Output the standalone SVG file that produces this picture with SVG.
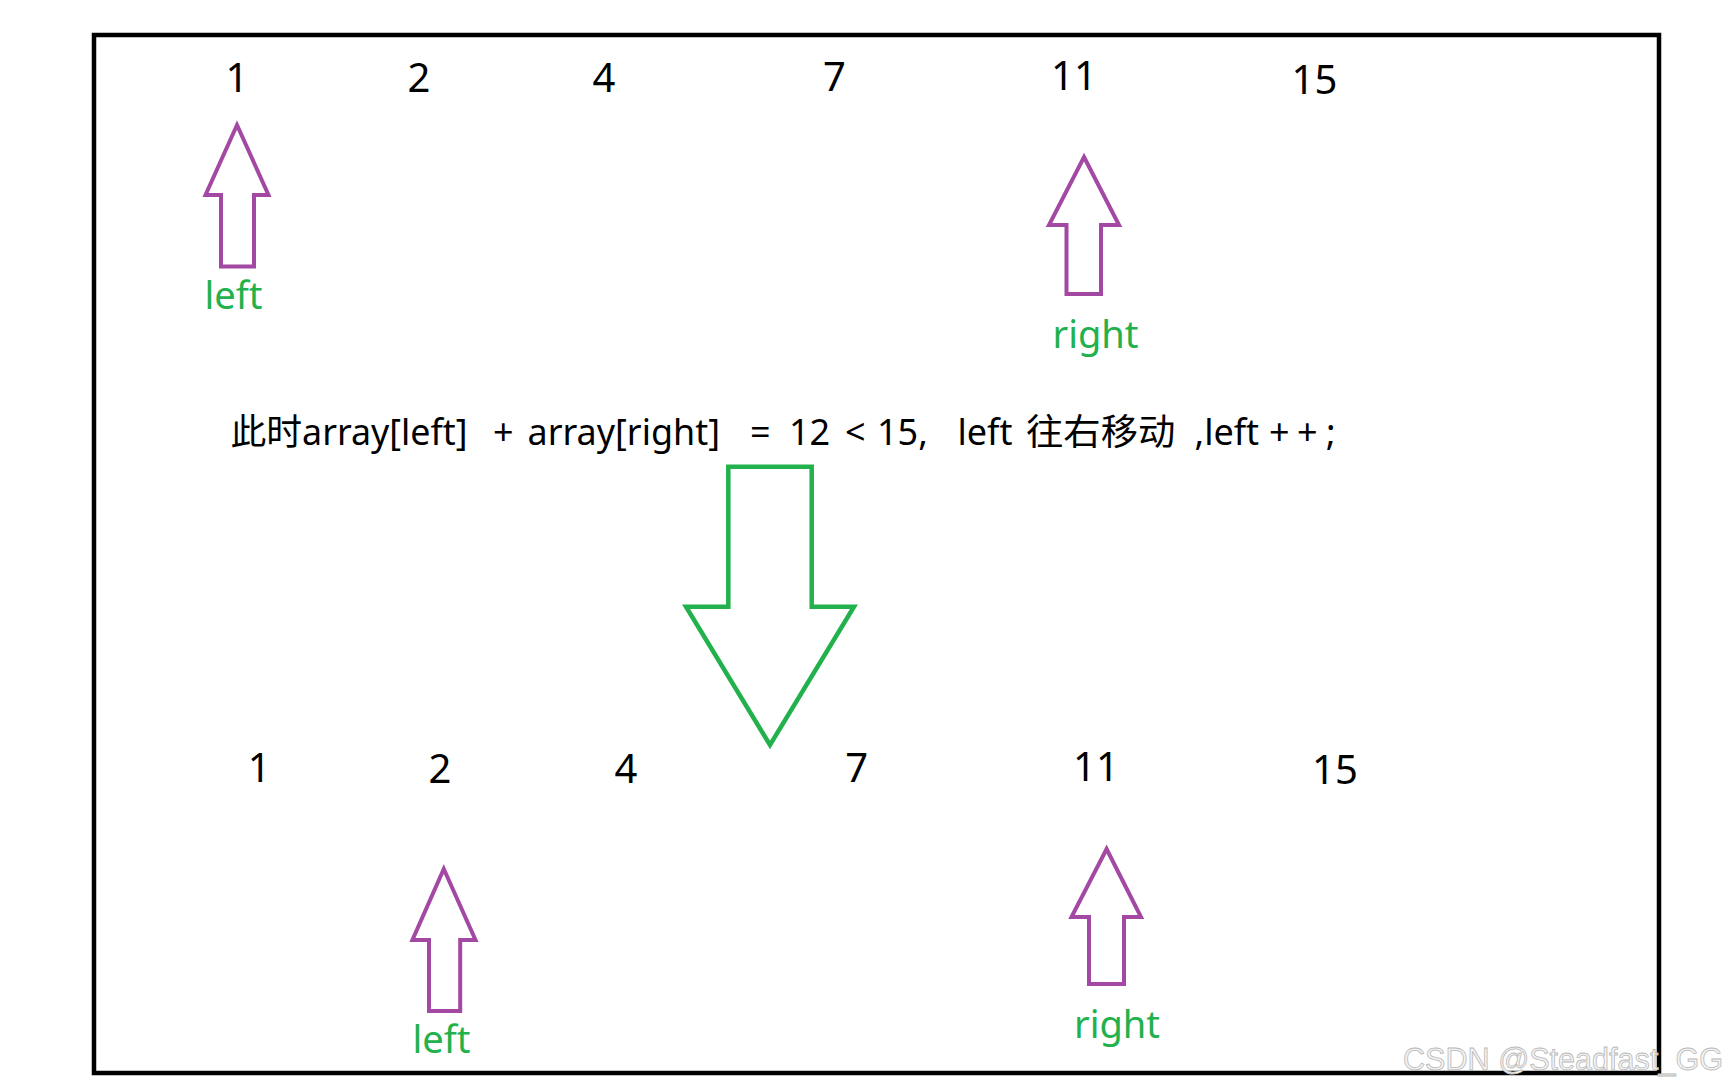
<svg xmlns="http://www.w3.org/2000/svg" width="1733" height="1090" viewBox="0 0 1733 1090">
<style>
.num{font-family:"Noto Sans","DejaVu Sans",sans-serif;font-size:40px;fill:#000;text-anchor:middle}
.lbl{font-family:"Noto Sans","DejaVu Sans",sans-serif;font-size:38px;fill:#22b14c}
.txt{font-family:"Noto Sans","Noto Sans CJK SC",sans-serif;font-size:36px;fill:#000}
.pa{fill:#fff;stroke:#a349a4;stroke-width:4;stroke-linejoin:miter}
.ga{fill:#fff;stroke:#22b14c;stroke-width:4.5;stroke-linejoin:miter}
.wm{font-family:"Liberation Sans",Arial,sans-serif;font-size:31px;fill:#f4f4f4;stroke:#b8b8b8;stroke-width:0.8}
</style>
<rect width="1733" height="1090" fill="#fff"/>
<rect id="frame" x="94" y="35" width="1565" height="1038" fill="none" stroke="#000" stroke-width="4.5"/>

<g id="top-row">
<text class="num" x="237" y="92">1</text>
<text class="num" x="419" y="92">2</text>
<text class="num" x="604" y="92">4</text>
<text class="num" x="834.5" y="91">7</text>
<text class="num" x="1074" y="90">11</text>
<text class="num" x="1314.5" y="93.5">15</text>
</g>

<g id="top-left-pointer">
<polygon class="pa" points="237,125 268.5,195 254,195 254,266.5 221,266.5 221,195 205.5,195"/>
<text class="lbl" x="204.5" y="309">left</text>
</g>
<g id="top-right-pointer">
<polygon class="pa" points="1084,157 1119,225 1101,225 1101,294 1066.5,294 1066.5,225 1049,225"/>
<text class="lbl" x="1052.5" y="348">right</text>
</g>

<g id="explanation">
<text class="txt" x="230.5" y="445" textLength="237" lengthAdjust="spacingAndGlyphs">此时array[left]</text>
<text class="txt" x="493" y="445">+</text>
<text class="txt" x="527.5" y="445" textLength="192.5" lengthAdjust="spacingAndGlyphs">array[right]</text>
<text class="txt" x="750" y="445">=</text>
<text class="txt" x="789" y="445">12</text>
<text class="txt" x="845" y="445">&lt;</text>
<text class="txt" x="877" y="445">15,</text>
<text class="txt" x="957.5" y="445">left</text>
<text class="txt" x="1026" y="445" textLength="149.5" lengthAdjust="spacingAndGlyphs">往右移动</text>
<text class="txt" x="1194.5" y="445">,left</text>
<text class="txt" x="1269" y="445">+</text>
<text class="txt" x="1297" y="445">+</text>
<text class="txt" x="1326" y="445">;</text>
</g>

<g id="connectors">
<polygon id="step-arrow" class="ga" points="728.3,466.7 811.7,466.7 811.7,606.7 854,606.7 770,745 686,606.7 728.3,606.7"/>
</g>

<g id="bottom-row">
<text class="num" x="259.3" y="782">1</text>
<text class="num" x="440" y="783">2</text>
<text class="num" x="626" y="783">4</text>
<text class="num" x="856.8" y="781.7">7</text>
<text class="num" x="1096" y="781">11</text>
<text class="num" x="1335" y="783.5">15</text>
</g>

<g id="bottom-left-pointer">
<polygon class="pa" points="443.8,869 475.5,940 460.2,940 460.2,1011 429,1011 429,940 412.4,940"/>
<text class="lbl" x="412.4" y="1053">left</text>
</g>
<g id="bottom-right-pointer">
<polygon class="pa" points="1106.6,849 1141,917 1124,917 1124,984 1089,984 1089,917 1071.5,917"/>
<text class="lbl" x="1074" y="1038">right</text>
</g>

<text class="wm" x="1403" y="1070" textLength="320" lengthAdjust="spacingAndGlyphs">CSDN @Steadfast_GG</text>
</svg>
